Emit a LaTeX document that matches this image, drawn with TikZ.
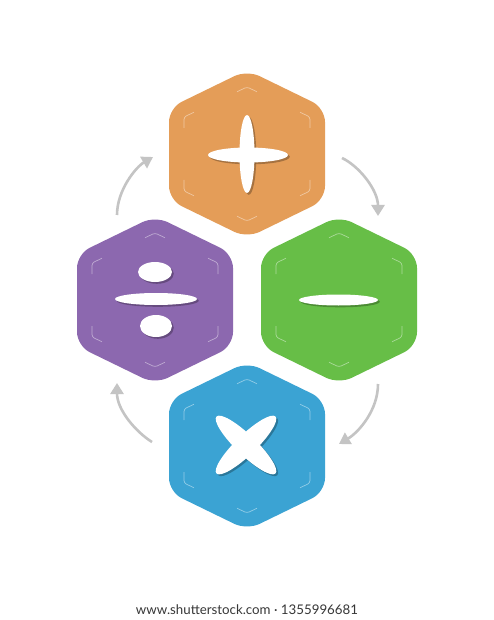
\documentclass[tikz,border=0pt]{standalone}
\usepackage{fontspec}
\setmainfont{Lato}
\usetikzlibrary{arrows.meta,calc}
\definecolor{hexorange}{RGB}{228,157,88}
\definecolor{hexpurple}{RGB}{140,104,175}
\definecolor{hexgreen}{RGB}{103,190,71}
\definecolor{hexblue}{RGB}{59,163,211}
\definecolor{arrowgray}{RGB}{196,196,196}
\definecolor{footergray}{RGB}{55,55,55}
\tikzset{
  hexfill/.style={rounded corners=14pt},
  bracket/.style={line width=0.7pt, rounded corners=2.5pt},
  cyclearrow/.style={draw=arrowgray, line width=2.6pt, -{Triangle[length=11pt,width=13pt]}},
  iconshadow/.style={opacity=0.6},
}
\newcommand\hexcell[5]{%
\begin{scope}[shift={(#2,#3)}]
\coordinate (#1) at (0,0);
\fill[#4, hexfill] (78,-46) -- (0,-84) -- (-78,-46) -- (-78,46) -- (0,84) -- (78,46) -- cycle;
\coordinate (#1-1) at (63,-37);
\coordinate (#1-2) at (0,-67);
\coordinate (#1-3) at (-63,-37);
\coordinate (#1-4) at (-63,37);
\coordinate (#1-5) at (0,67);
\coordinate (#1-6) at (63,37);
\foreach \v/\p/\n in {1/6/2,2/1/3,3/2/4,4/3/5,5/4/6,6/5/1}
  \draw[bracket,#5] ($(#1-\v)!11pt!(#1-\p)$) -- (#1-\v) -- ($(#1-\v)!11pt!(#1-\n)$);
\end{scope}}
% cx, cy, rx, ry, rot, shadow colour
\newcommand\ovalshade[6]{\fill[#6, iconshadow, rotate around={#5:(#1+1.8,#2+1.8)}] (#1+1.8,#2+1.8) ellipse [x radius=#3, y radius=#4];}
\newcommand\ovalwhite[5]{\fill[white, rotate around={#5:(#1,#2)}] (#1,#2) ellipse [x radius=#3, y radius=#4];}
\begin{document}
\begin{tikzpicture}[x=1pt,y=-1pt]
\fill[white] (0,0) rectangle (494,620);
\useasboundingbox (0,0) rectangle (494,620);
\hexcell{plus}{247}{154}{hexorange}{hexorange!55!white}
\hexcell{divide}{155}{300}{hexpurple}{hexpurple!55!white}
\hexcell{minus}{339}{300}{hexgreen}{hexgreen!55!white}
\hexcell{times}{247}{446}{hexblue}{hexblue!55!white}
% plus
\ovalshade{247}{154}{7.5}{39}{0}{hexorange!55!black}
\ovalshade{248}{155}{40}{7.5}{0}{hexorange!55!black}
\ovalwhite{247}{154}{7.5}{39}{0}
\ovalwhite{248}{155}{40}{7.5}{0}
% minus
\ovalshade{338.5}{300}{39.5}{5.5}{0}{hexgreen!55!black}
\ovalwhite{338.5}{300}{39.5}{5.5}{0}
% divide
\ovalshade{155}{272}{17}{10}{0}{hexpurple!55!black}
\ovalshade{156}{299}{41}{6}{0}{hexpurple!55!black}
\ovalshade{156}{326}{16}{11}{0}{hexpurple!55!black}
\ovalwhite{155}{272}{17}{10}{0}
\ovalwhite{156}{299}{41}{6}{0}
\ovalwhite{156}{326}{16}{11}{0}
% times
\ovalshade{246}{445}{41}{10}{44}{hexblue!55!black}
\ovalshade{246}{445}{41}{10}{-44}{hexblue!55!black}
\ovalwhite{246}{445}{41}{10}{44}
\ovalwhite{246}{445}{41}{10}{-44}
% cycle arrows
\coordinate (a1s) at (117,215); \coordinate (a1e) at (153,157);
\coordinate (a2s) at (342,158); \coordinate (a2e) at (378,216);
\coordinate (a3s) at (378,384); \coordinate (a3e) at (339,444);
\coordinate (a4s) at (152,442); \coordinate (a4e) at (117,383);
\draw[cyclearrow] (a1s) .. controls (117,190) and (136,167) .. (a1e);
\draw[cyclearrow] (a2s) .. controls (359,166) and (378,190) .. (a2e);
\draw[cyclearrow] (a3s) .. controls (378,410) and (359,432) .. (a3e);
\draw[cyclearrow] (a4s) .. controls (136,432) and (117,410) .. (a4e);
\node[font=\fontsize{13.3}{15}\selectfont, text=footergray] (footer) at (247,610) {www.shutterstock.com · 1355996681};
\end{tikzpicture}
\end{document}
